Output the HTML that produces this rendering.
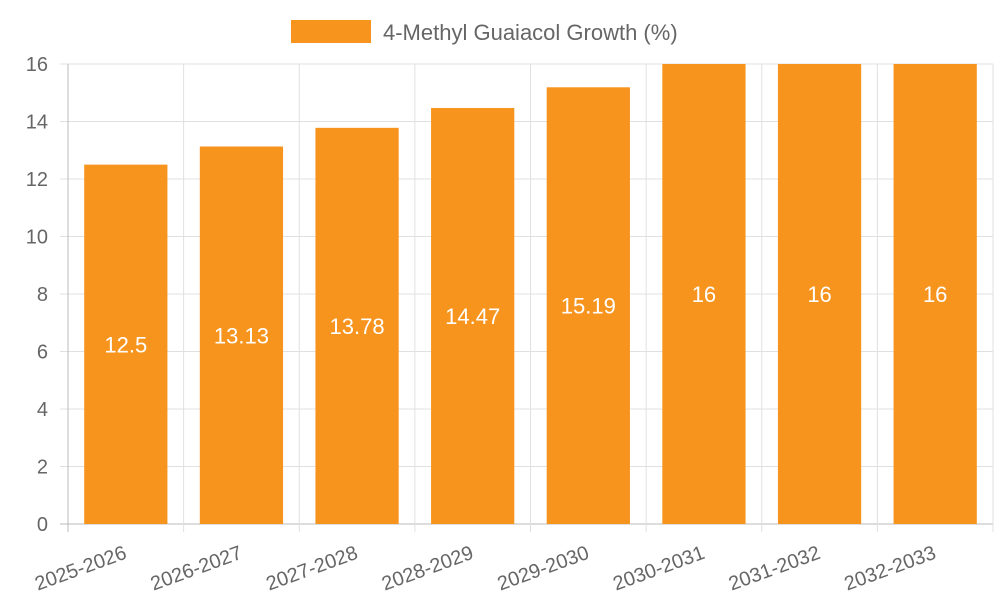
<!DOCTYPE html>
<html><head><meta charset="utf-8"><style>
html,body{margin:0;padding:0;background:#fff;}
svg text{font-family:"Liberation Sans",Arial,sans-serif;}
</style></head><body>
<svg id="chart" width="1000" height="600" xmlns="http://www.w3.org/2000/svg">
<g id="legend">
<rect x="291" y="20" width="80" height="23" fill="#f7941d"></rect>
<text x="383" y="40" font-size="22" fill="#666">4-Methyl Guaiacol Growth (%)</text>
</g>
<g id="grid"></g><g id="bars"></g><g id="labels"></g>
</svg>
<script>
const categories=["2025-2026","2026-2027","2027-2028","2028-2029","2029-2030","2030-2031","2031-2032","2032-2033"];
const values=[12.5,13.13,13.78,14.47,15.19,16,16,16];
const yTicks=[0,2,4,6,8,10,12,14,16];
const NS="http://www.w3.org/2000/svg";
const L=68,R=993,T=64,B=524,yMax=16;
const bw=(R-L)/categories.length;
const y=v=>B-(v/yMax)*(B-T);
const xc=i=>L+bw*(i+0.5);
function mk(tag,attrs,parent,txt){const e=document.createElementNS(NS,tag);for(const k in attrs)e.setAttribute(k,attrs[k]);if(txt!==undefined)e.textContent=txt;document.getElementById(parent).appendChild(e);return e;}
yTicks.forEach(t=>{
 const g=mk('line',{x1:L-8,x2:R,y1:y(t),y2:y(t),stroke:t===0?'#bbb':'#e0e0e0','stroke-width':1},'grid');
 
 
 const tx=mk('text',{x:L-20,y:y(t)+7,'text-anchor':'end','font-size':20,fill:'#666'},'grid',String(t));
 
 
});
for(let i=0;i<=categories.length;i++){
 const x=L+bw*i;
 const g=mk('line',{x1:x,x2:x,y1:T,y2:B+8,stroke:i===0?'#bbb':'#e0e0e0','stroke-width':1},'grid');
 
 
}
categories.forEach((c,i)=>{
 const w=bw*0.72;
 const r=mk('rect',{x:xc(i)-w/2,y:y(values[i]),width:w,height:B-y(values[i]),fill:'#f7941d'},'bars');
 
 
 const v=mk('text',{x:xc(i),y:y(values[i]/2)+8,'text-anchor':'middle','font-size':22,fill:'#fff'},'labels',String(values[i]));
 
 
 const xl=mk('text',{x:xc(i)+2,y:B+34,'text-anchor':'end','font-size':20,fill:'#666',transform:`rotate(-20 ${xc(i)+2} ${B+34})`},'labels',c);
 
 
});
</script>
</body></html>
